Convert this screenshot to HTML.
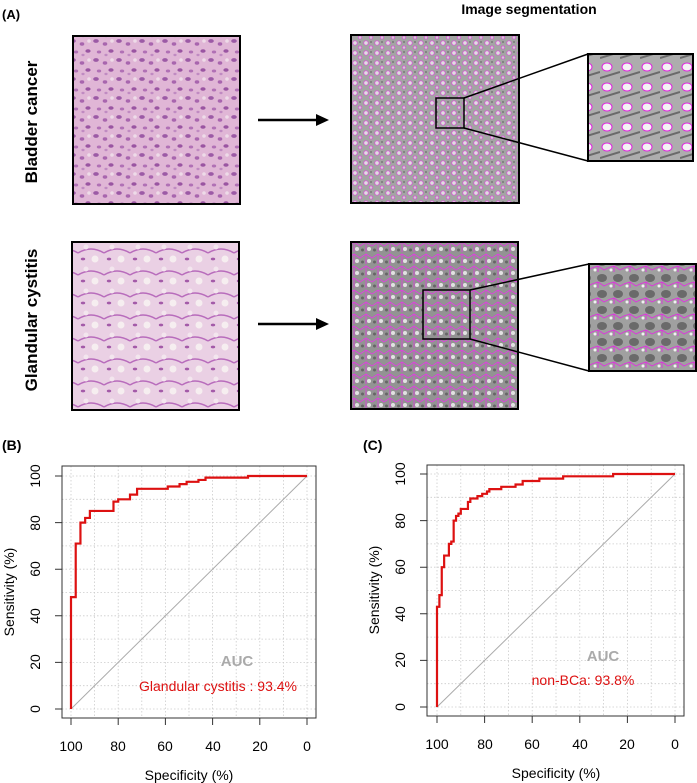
<!DOCTYPE html>
<html><head><meta charset="utf-8"><style>
html,body{margin:0;padding:0;background:#fff;}
svg{display:block;font-family:"Liberation Sans",Arial,sans-serif;}
</style></head><body>
<svg width="697" height="783" viewBox="0 0 697 783" xmlns="http://www.w3.org/2000/svg">
<defs>
<pattern id="he1" width="23" height="19" patternUnits="userSpaceOnUse">
<rect width="23" height="19" fill="#e0b6d6"/>
<ellipse cx="4" cy="3" rx="2.8" ry="1.9" fill="#9c5aa6"/>
<ellipse cx="13" cy="6" rx="2.3" ry="1.7" fill="#a865ae"/>
<ellipse cx="19" cy="13" rx="2.6" ry="1.8" fill="#9a55a2"/>
<ellipse cx="7" cy="14" rx="2.2" ry="1.5" fill="#b070b5"/>
<ellipse cx="14" cy="17" rx="1.6" ry="1.2" fill="#c08ac2"/>
<circle cx="20" cy="3" r="1.8" fill="#eedbe8"/>
</pattern>
<pattern id="he2" width="26" height="22" patternUnits="userSpaceOnUse">
<rect width="26" height="22" fill="#ead0e4"/>
<path d="M0 11 Q13 3 26 11" stroke="#b86cbc" stroke-width="1.6" fill="none"/>
<ellipse cx="5" cy="17" rx="2.2" ry="1.4" fill="#a35aa8"/>
<circle cx="17" cy="17" r="3.5" fill="#f6eef0"/>
<circle cx="8" cy="5" r="2.5" fill="#f3e6ee"/>
</pattern>
<pattern id="sg1" width="11" height="10" patternUnits="userSpaceOnUse">
<rect width="11" height="10" fill="#a4a4a4"/>
<circle cx="3" cy="3" r="2.2" fill="#dedede" stroke="#e040e0" stroke-width="0.7"/>
<circle cx="8" cy="7.5" r="1.6" fill="#d0d0d0" stroke="#e040e0" stroke-width="0.6"/>
<circle cx="8" cy="2" r="1" fill="#7a7a7a"/>
</pattern>
<pattern id="sg2" width="12" height="12" patternUnits="userSpaceOnUse">
<rect width="12" height="12" fill="#939393"/>
<path d="M0 6 L6 2 L12 6 M6 2 L6 12" stroke="#e23ce2" stroke-width="0.8" fill="none"/>
<circle cx="9" cy="9" r="2" fill="#e2e2e2"/>
<circle cx="2.5" cy="10" r="1.5" fill="#666"/>
</pattern>
<pattern id="in1" width="20" height="20" patternUnits="userSpaceOnUse">
<rect width="20" height="20" fill="#adadad"/>
<ellipse cx="7" cy="7" rx="5" ry="4" fill="#f4f4f4" stroke="#e020e0" stroke-width="1"/>
<path d="M0 18 L20 12" stroke="#6a6a6a" stroke-width="2"/>
</pattern>
<pattern id="in2" width="16" height="16" patternUnits="userSpaceOnUse">
<rect width="16" height="16" fill="#a0a0a0"/>
<ellipse cx="10" cy="6" rx="5" ry="4" fill="#6a6a6a"/>
<path d="M0 12 L6 10 L12 14 L16 12 M6 10 L6 16" stroke="#e030e0" stroke-width="0.9" fill="none"/>
<circle cx="3" cy="14" r="1.5" fill="#f2f2f2"/>
</pattern>
</defs>

<!-- Panel A -->
<text x="2" y="19" font-size="13" font-weight="bold">(A)</text>
<text x="529" y="14" font-size="14" font-weight="bold" text-anchor="middle">Image segmentation</text>
<text transform="translate(37,122) rotate(-90)" font-size="17" font-weight="bold" text-anchor="middle">Bladder cancer</text>
<text transform="translate(37,320) rotate(-90)" font-size="17" font-weight="bold" text-anchor="middle">Glandular cystitis</text>

<rect x="73" y="36" width="167" height="168" fill="url(#he1)" stroke="#000" stroke-width="2"/>
<rect x="72" y="242" width="167" height="168" fill="url(#he2)" stroke="#000" stroke-width="2"/>
<rect x="351" y="35" width="168" height="168" fill="url(#sg1)" stroke="#000" stroke-width="2"/>
<rect x="351" y="242" width="167" height="167" fill="url(#sg2)" stroke="#000" stroke-width="2"/>
<rect x="588" y="54" width="105" height="107" fill="url(#in1)" stroke="#000" stroke-width="2"/>
<rect x="589" y="264" width="107" height="107" fill="url(#in2)" stroke="#000" stroke-width="2"/>
<rect x="436" y="98" width="28" height="30" fill="none" stroke="#000" stroke-width="1.5"/>
<rect x="423" y="290" width="47" height="49" fill="none" stroke="#000" stroke-width="1.5"/>
<path d="M464 98 L588 54 M464 128 L588 161 M470 290 L589 264 M470 339 L589 371" stroke="#000" stroke-width="1.5"/>
<path d="M258 120 L318 120" stroke="#000" stroke-width="2.5"/>
<path d="M316 114 L329 120 L316 126 Z" fill="#000"/>
<path d="M258 324 L318 324" stroke="#000" stroke-width="2.5"/>
<path d="M316 318 L329 324 L316 330 Z" fill="#000"/>

<!-- Panel B -->
<text x="2" y="450" font-size="14" font-weight="bold">(B)</text>
<g stroke="#ccc" stroke-width="0.8" stroke-dasharray="1.5,2" fill="none">
<path d="M71 466V718M94.6 466V718M118.2 466V718M141.8 466V718M165.4 466V718M189 466V718M212.6 466V718M236.2 466V718M259.8 466V718M283.4 466V718M307 466V718"/>
<path d="M62 709H316M62 685.7H316M62 662.4H316M62 639.1H316M62 615.8H316M62 592.5H316M62 569.2H316M62 545.9H316M62 522.6H316M62 499.3H316M62 476H316"/>
</g>
<line x1="71" y1="709" x2="307" y2="476" stroke="#aaa" stroke-width="1"/>
<g transform="translate(307,709) scale(-2.36,-2.33)">
<path vector-effect="non-scaling-stroke" d="M100 0 L100 48 L98 48 L98 71 L96 71 L96 80 L94 80 L94 82 L92 82 L92 85 L82 85 L82 89 L80 89 L80 90 L75 90 L75 92 L72 92 L72 94.5 L59 94.5 L59 95.5 L54 95.5 L54 96.5 L51 96.5 L51 97.5 L46 97.5 L46 98.3 L43 98.3 L43 99.3 L25 99.3 L25 100 L0 100" fill="none" stroke="#dd1111" stroke-width="2.2"/>
</g>
<rect x="62" y="466" width="254" height="252" fill="none" stroke="#333" stroke-width="1"/>
<g stroke="#333" stroke-width="1">
<path d="M71 718v7M118.2 718v7M165.4 718v7M212.6 718v7M259.8 718v7M307 718v7"/>
<path d="M62 709h-7M62 662.4h-7M62 615.8h-7M62 569.2h-7M62 522.6h-7M62 476h-7"/>
</g>
<g font-size="14" text-anchor="middle" fill="#000">
<text x="71" y="751">100</text><text x="118" y="751">80</text><text x="165" y="751">60</text><text x="213" y="751">40</text><text x="260" y="751">20</text><text x="307" y="751">0</text>
<text transform="translate(40,709) rotate(-90)">0</text>
<text transform="translate(40,662) rotate(-90)">20</text>
<text transform="translate(40,616) rotate(-90)">40</text>
<text transform="translate(40,569) rotate(-90)">60</text>
<text transform="translate(40,523) rotate(-90)">80</text>
<text transform="translate(40,476) rotate(-90)">100</text>
<text x="189" y="780">Specificity (%)</text>
<text transform="translate(14,592) rotate(-90)">Sensitivity (%)</text>
</g>
<text x="237" y="666" font-size="15" font-weight="bold" fill="#aaa" text-anchor="middle">AUC</text>
<text x="218" y="691" font-size="14" fill="#dd1111" text-anchor="middle">Glandular cystitis : 93.4%</text>

<!-- Panel C -->
<text x="363" y="450" font-size="14" font-weight="bold">(C)</text>
<g stroke="#ccc" stroke-width="0.8" stroke-dasharray="1.5,2" fill="none">
<path d="M437 465V716M460.8 465V716M484.6 465V716M508.4 465V716M532.2 465V716M556 465V716M579.8 465V716M603.6 465V716M627.4 465V716M651.2 465V716M675 465V716"/>
<path d="M427 707H684M427 683.7H684M427 660.4H684M427 637.1H684M427 613.8H684M427 590.5H684M427 567.2H684M427 543.9H684M427 520.6H684M427 497.3H684M427 474H684"/>
</g>
<line x1="437" y1="707" x2="675" y2="474" stroke="#aaa" stroke-width="1"/>
<g transform="translate(675,707) scale(-2.38,-2.33)">
<path vector-effect="non-scaling-stroke" d="M100 0 L100 43 L99 43 L99 48 L98 48 L98 60 L97 60 L97 65 L95 65 L95 70 L94 70 L94 71 L93 71 L93 80 L92 80 L92 82 L91 82 L91 83 L90 83 L90 85 L87 85 L87 88 L86 88 L86 89.5 L83 89.5 L83 90.5 L81 90.5 L81 91.5 L79 91.5 L79 92.5 L78 92.5 L78 93.5 L73 93.5 L73 94.5 L67 94.5 L67 95.5 L64 95.5 L64 97 L57 97 L57 98 L47 98 L47 99 L26 99 L26 100 L0 100" fill="none" stroke="#dd1111" stroke-width="2.2"/>
</g>
<rect x="427" y="465" width="257" height="251" fill="none" stroke="#333" stroke-width="1"/>
<g stroke="#333" stroke-width="1">
<path d="M437 716v7M484.6 716v7M532.2 716v7M579.8 716v7M627.4 716v7M675 716v7"/>
<path d="M427 707h-7M427 660.4h-7M427 613.8h-7M427 567.2h-7M427 520.6h-7M427 474h-7"/>
</g>
<g font-size="14" text-anchor="middle" fill="#000">
<text x="437" y="749">100</text><text x="485" y="749">80</text><text x="532" y="749">60</text><text x="580" y="749">40</text><text x="627" y="749">20</text><text x="675" y="749">0</text>
<text transform="translate(405,707) rotate(-90)">0</text>
<text transform="translate(405,660) rotate(-90)">20</text>
<text transform="translate(405,614) rotate(-90)">40</text>
<text transform="translate(405,567) rotate(-90)">60</text>
<text transform="translate(405,521) rotate(-90)">80</text>
<text transform="translate(405,474) rotate(-90)">100</text>
<text x="556" y="778">Specificity (%)</text>
<text transform="translate(379,590) rotate(-90)">Sensitivity (%)</text>
</g>
<text x="603" y="661" font-size="15" font-weight="bold" fill="#aaa" text-anchor="middle">AUC</text>
<text x="583" y="685" font-size="14" fill="#dd1111" text-anchor="middle">non-BCa: 93.8%</text>
</svg>
</body></html>
